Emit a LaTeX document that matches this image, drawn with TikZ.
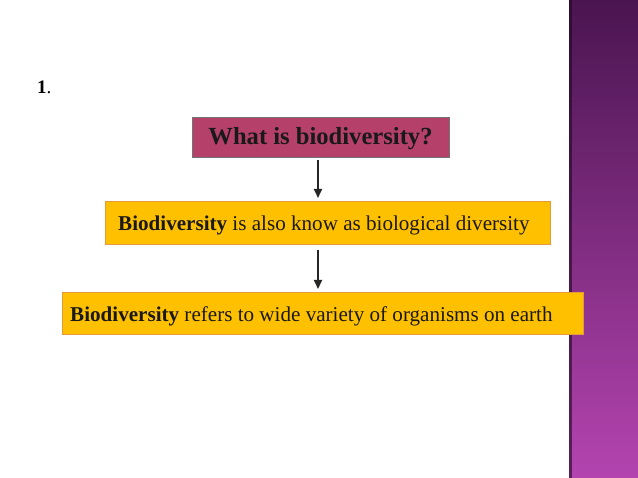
\documentclass[tikz,border=0pt]{standalone}
\usepackage{fontspec}
\setmainfont{Liberation Serif}
\usetikzlibrary{arrows.meta}
\definecolor{barTop}{HTML}{4A1550}
\definecolor{barBot}{HTML}{B444B0}
\definecolor{rasp}{HTML}{B5416A}
\definecolor{gold}{HTML}{FFC000}
\definecolor{goldedge}{HTML}{E39A3A}
\tikzset{
  qbox/.style={draw=black!55, line width=0.8pt, fill=rasp, anchor=north west, inner sep=0pt},
  qtext/.style={inner sep=0pt, text=black!90, font=\bfseries\fontsize{24.6}{28}\selectfont},
  gbox/.style={draw=goldedge, line width=1pt, fill=gold, anchor=north west, inner sep=0pt},
  gtext/.style={anchor=west, inner sep=0pt, font=\fontsize{21.1}{25}\selectfont, text=black!90},
  flow/.style={-{Triangle[length=9pt,width=8pt]}, line width=2pt, black!85}
}
\begin{document}
\begin{tikzpicture}[x=1pt,y=1pt]
\useasboundingbox (0,0) rectangle (638,-478);
\fill[white] (0,0) rectangle (638,-478);
% side bar
\shade[top color=barTop, bottom color=barBot] (569,0) rectangle (638,-478);
\fill[black!60!barTop, opacity=0.6] (569,0) rectangle (572,-478);
% number
\node[anchor=west, font=\fontsize{19}{22}\selectfont, inner sep=0pt] (num) at (37,-87) {\textbf{1}.};
% boxes
\node[qbox, minimum width=257pt, minimum height=40pt] (q) at (192,-117) {};
\node[qtext] (qt) at (320.5,-139) {What is biodiversity?};
\node[gbox, minimum width=445pt, minimum height=43pt] (b) at (105,-201) {};
\node[gtext] (bt) at (118,-225.5) {\textbf{Biodiversity} is also know as biological diversity};
\node[gbox, minimum width=521pt, minimum height=42pt] (c) at (62,-292) {};
\node[gtext] (ct) at (70,-316) {\textbf{Biodiversity} refers to wide variety of organisms on earth};
% arrows
\coordinate (a1s) at (318,-160);
\coordinate (a1e) at (318,-198);
\coordinate (a2s) at (318,-250);
\coordinate (a2e) at (318,-289);
\draw[flow] (a1s) -- (a1e);
\draw[flow] (a2s) -- (a2e);
\end{tikzpicture}
\end{document}
